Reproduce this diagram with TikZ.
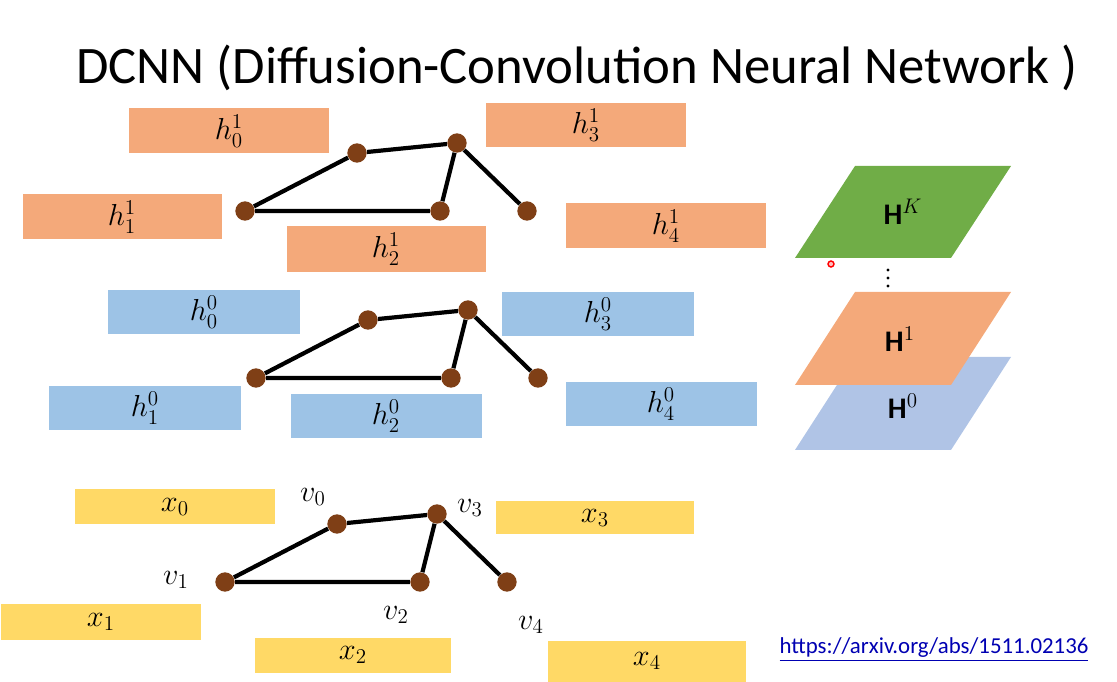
\documentclass[tikz,border=0pt]{standalone}
\usepackage{fontspec}
\setmainfont{Carlito}
\usepackage{amsmath}
\begin{document}
\begin{tikzpicture}[x=0.02cm,y=-0.02cm,
 lab/.style={font=\fontsize{17}{20}\selectfont},
 orb/.style={fill=orange!55!white!90!red, draw=none},
 blb/.style={fill=blue!30!cyan!35!white, draw=none},
 yeb/.style={fill=yellow!60!orange!70!white, draw=none},
 v/.style={circle, fill=brown!70!black, inner sep=0pt, minimum size=11pt},
 e/.style={line width=2.4pt},
 vl/.style={font=\fontsize{17}{20}\selectfont}]
\definecolor{orr}{HTML}{F4A97A}\definecolor{blr}{HTML}{9DC3E6}\definecolor{yer}{HTML}{FFD966}
\definecolor{brn}{HTML}{7F3F16}\definecolor{grn}{HTML}{70AD47}\definecolor{lbl}{HTML}{B0C4E6}
\tikzset{orb/.style={fill=orr},blb/.style={fill=blr},yeb/.style={fill=yer},v/.style={circle,fill=brn,inner sep=0pt,minimum size=11pt}}
\useasboundingbox (0,0) rectangle (1117,682);
\node[font=\fontsize{30}{36}\selectfont] (title) at (577,68) {DCNN (Diffusion-Convolution Neural Network )};
% orange
\node[orb,minimum width=200*0.02cm,minimum height=45*0.02cm,lab] (h01) at (229,131) {$h_0^1$};
\node[orb,minimum width=199*0.02cm,minimum height=45*0.02cm,lab] (h11) at (122,217) {$h_1^1$};
\node[orb,minimum width=199*0.02cm,minimum height=46*0.02cm,lab] (h21) at (386,249) {$h_2^1$};
\node[orb,minimum width=200*0.02cm,minimum height=44*0.02cm,lab] (h31) at (586,125) {$h_3^1$};
\node[orb,minimum width=200*0.02cm,minimum height=45*0.02cm,lab] (h41) at (666,226) {$h_4^1$};
% blue
\node[blb,minimum width=192*0.02cm,minimum height=41*0.02cm,lab] (h00) at (204,312) {$h_0^0$};
\node[blb,minimum width=192*0.02cm,minimum height=41*0.02cm,lab] (h10) at (145,408) {$h_1^0$};
\node[blb,minimum width=191*0.02cm,minimum height=41*0.02cm,lab] (h20) at (386,416) {$h_2^0$};
\node[blb,minimum width=192*0.02cm,minimum height=40*0.02cm,lab] (h30) at (598,314) {$h_3^0$};
\node[blb,minimum width=191*0.02cm,minimum height=40*0.02cm,lab] (h40) at (661,404) {$h_4^0$};
% yellow
\node[yeb,minimum width=200*0.02cm,minimum height=35*0.02cm,lab] (x0) at (175,507) {$x_0$};
\node[yeb,minimum width=200*0.02cm,minimum height=36*0.02cm,lab] (x1) at (101,622) {$x_1$};
\node[yeb,minimum width=196*0.02cm,minimum height=35*0.02cm,lab] (x2) at (353,655) {$x_2$};
\node[yeb,minimum width=198*0.02cm,minimum height=33*0.02cm,lab] (x3) at (595,518) {$x_3$};
\node[yeb,minimum width=198*0.02cm,minimum height=41*0.02cm,lab] (x4) at (647,661) {$x_4$};
% graphs
\foreach \g/\dx/\dy in {a/0/0,b/11/167,c/-20/371}{
 \node[v] (\g0) at (357+\dx,153+\dy) {};
 \node[v] (\g3) at (457+\dx,143+\dy) {};
 \node[v] (\g1) at (245+\dx,211+\dy) {};
 \node[v] (\g2) at (440+\dx,211+\dy) {};
 \node[v] (\g4) at (527+\dx,211+\dy) {};
 \draw[e] (\g1)--(\g0)--(\g3)--(\g2) (\g3)--(\g4) (\g1)--(\g2);
}
\node[vl] (l0) at (313,497) {$v_0$};
\node[vl] (l3) at (470,508) {$v_3$};
\node[vl] (l1) at (176,580) {$v_1$};
\node[vl] (l2) at (396,615) {$v_2$};
\node[vl] (l4) at (531,625) {$v_4$};
% layers
\draw[fill=lbl,draw=none] (795,450)--(855,357)--(1011,357)--(951,450)--cycle;
\node[lab] (H0) at (903,406) {$\mathbf{H}^0$};
\draw[fill=orr,draw=none] (795,385)--(855,292)--(1011,292)--(951,385)--cycle;
\node[lab] (H1) at (900,339) {$\mathbf{H}^1$};
\draw[fill=grn,draw=none] (795,258)--(855,166)--(1011,166)--(951,258)--cycle;
\node[lab] (HK) at (903,212) {$\mathbf{H}^{K}$};
\foreach \yy in {270,278,286} \fill (888,\yy) circle (1.6);
\draw[red,line width=0.8pt,fill=pink] (831,264) circle (3);
\node[font=\fontsize{13}{15}\selectfont,text=blue!70!black] (url) at (934,650) {\underline{https://arxiv.org/abs/1511.02136}};
\end{tikzpicture}
\end{document}
